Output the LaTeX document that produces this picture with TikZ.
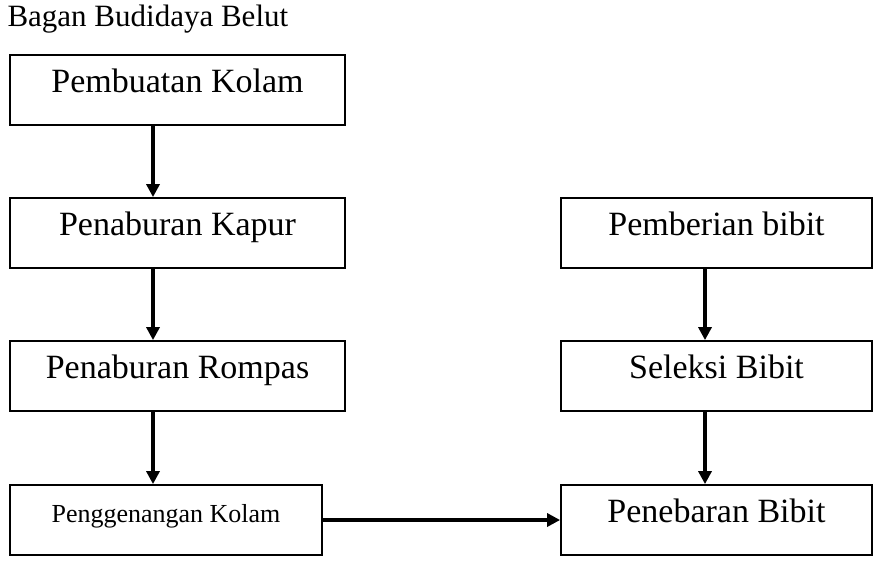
\documentclass[tikz,border=0pt]{standalone}
\usepackage{fontspec}
\setmainfont{Liberation Serif}
\usetikzlibrary{arrows.meta}
\begin{document}
\begin{tikzpicture}[x=1pt,y=-1pt,
  box/.style={draw,line width=1.8pt,inner sep=0pt,text height=0.7em,text depth=0.22em,font=\fontsize{34}{38}\selectfont},
  arr/.style={line width=3.2pt,-{Triangle[length=13pt,width=13pt]}}]
\useasboundingbox (0,0) rectangle (882,565);
\node[anchor=west,font=\fontsize{31}{34}\selectfont] (t) at (4,19) {Bagan Budidaya Belut};
\node[box,minimum width=335pt,minimum height=70pt] (a) at (177.5,90) {Pembuatan Kolam};
\node[box,minimum width=335pt,minimum height=70pt] (b) at (177.5,233) {Penaburan Kapur};
\node[box,minimum width=335pt,minimum height=70pt] (c) at (177.5,376) {Penaburan Rompas};
\node[box,minimum width=312pt,minimum height=70pt,font=\fontsize{26}{30}\selectfont] (d) at (166,520) {Penggenangan Kolam};
\node[box,minimum width=311pt,minimum height=70pt] (e) at (716.5,233) {Pemberian bibit};
\node[box,minimum width=311pt,minimum height=70pt] (f) at (716.5,376) {Seleksi Bibit};
\node[box,minimum width=311pt,minimum height=70pt] (g) at (716.5,520) {Penebaran Bibit};
\draw[arr] (a.south -| 153,0) -- (b.north -| 153,0);
\draw[arr] (b.south -| 153,0) -- (c.north -| 153,0);
\draw[arr] (c.south -| 153,0) -- (d.north -| 153,0);
\draw[arr] (e.south -| 705,0) -- (f.north -| 705,0);
\draw[arr] (f.south -| 705,0) -- (g.north -| 705,0);
\draw[arr] (d.east) -- (g.west);
\end{tikzpicture}
\end{document}
